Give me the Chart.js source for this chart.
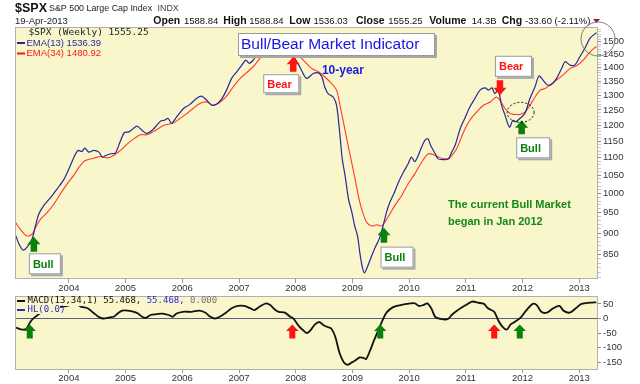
<!DOCTYPE html>
<html><head><meta charset="utf-8">
<script src="https://cdn.jsdelivr.net/npm/chart.js@4/dist/chart.umd.min.js"></script>
<style>
html,body{margin:0;padding:0;background:#fff;}
#wrap{position:relative;width:640px;height:384px;overflow:hidden;}
canvas{position:absolute;left:0;top:0;}
</style></head><body>
<div id="wrap"><canvas id="main" width="640" height="384"></canvas><canvas id="macd" width="640" height="384"></canvas></div>
<script>
// ---------- data ----------
const yearTicks = [2004,2005,2006,2007,2008,2009,2010,2011,2012,2013];
const priceTicks = [850,900,950,1000,1050,1100,1150,1200,1250,1300,1350,1400,1450,1500];
const macdTicks = [-150,-100,-50,0,50];

const ema13Years = [2003.06,2003.12,2003.19,2003.26,2003.35,2003.41,2003.47,2003.56,2003.68,2003.79,2003.91,2004.00,2004.09,2004.16,2004.23,2004.28,2004.35,2004.44,2004.53,2004.59,2004.65,2004.74,2004.82,2004.90,2004.98,2005.06,2005.12,2005.20,2005.29,2005.37,2005.47,2005.56,2005.62,2005.68,2005.75,2005.81,2005.90,2006.02,2006.13,2006.25,2006.34,2006.43,2006.52,2006.60,2006.69,2006.78,2006.87,2006.96,2007.05,2007.12,2007.18,2007.25,2007.31,2007.45,2007.55,2007.65,2007.75,2007.85,2007.92,2007.97,2008.07,2008.19,2008.31,2008.40,2008.46,2008.51,2008.57,2008.66,2008.72,2008.78,2008.82,2008.87,2008.93,2008.99,2009.04,2009.09,2009.13,2009.17,2009.21,2009.27,2009.34,2009.40,2009.47,2009.54,2009.60,2009.66,2009.74,2009.81,2009.90,2009.98,2010.04,2010.10,2010.16,2010.22,2010.28,2010.33,2010.38,2010.46,2010.51,2010.60,2010.69,2010.75,2010.81,2010.90,2010.98,2011.07,2011.16,2011.25,2011.34,2011.40,2011.46,2011.51,2011.57,2011.63,2011.69,2011.77,2011.83,2011.88,2011.95,2012.04,2012.13,2012.22,2012.29,2012.36,2012.44,2012.51,2012.60,2012.69,2012.75,2012.84,2012.92,2013.01,2013.10,2013.19,2013.30];
const ema13Values = [895,874,860,866,885,917,947,969,990,1012,1038,1068,1102,1122,1119,1129,1117,1122,1117,1102,1107,1112,1114,1147,1177,1179,1187,1197,1184,1174,1184,1202,1214,1216,1222,1206,1227,1255,1268,1289,1297,1283,1266,1269,1286,1318,1360,1384,1409,1428,1416,1428,1447,1490,1510,1480,1495,1515,1490,1443,1403,1360,1378,1380,1366,1330,1306,1294,1266,1168,1097,1049,986,951,917,893,854,824,809,824,847,866,885,917,951,977,1003,1030,1059,1082,1102,1089,1107,1132,1153,1158,1137,1112,1097,1095,1097,1117,1137,1189,1222,1260,1289,1318,1326,1318,1326,1306,1318,1266,1233,1194,1216,1211,1222,1238,1289,1330,1369,1354,1336,1338,1360,1397,1422,1409,1409,1441,1474,1514,1536.39];

const ema34Years = [2003.06,2003.15,2003.26,2003.35,2003.41,2003.50,2003.62,2003.74,2003.85,2003.97,2004.09,2004.18,2004.29,2004.44,2004.56,2004.68,2004.79,2004.91,2005.03,2005.15,2005.26,2005.38,2005.50,2005.68,2005.84,2005.96,2006.08,2006.19,2006.31,2006.43,2006.54,2006.66,2006.78,2006.90,2007.02,2007.13,2007.25,2007.37,2007.50,2007.65,2007.80,2007.92,2008.07,2008.16,2008.28,2008.40,2008.51,2008.63,2008.72,2008.78,2008.84,2008.90,2008.96,2009.01,2009.07,2009.13,2009.19,2009.25,2009.34,2009.43,2009.51,2009.57,2009.66,2009.75,2009.87,2009.98,2010.10,2010.22,2010.34,2010.46,2010.57,2010.69,2010.72,2010.84,2010.95,2011.07,2011.19,2011.31,2011.43,2011.54,2011.60,2011.69,2011.78,2011.87,2011.95,2012.04,2012.13,2012.22,2012.31,2012.40,2012.48,2012.60,2012.72,2012.84,2012.95,2013.07,2013.19,2013.30];
const ema34Values = [926,908,893,897,913,934,951,973,999,1026,1051,1073,1092,1099,1104,1100,1107,1122,1142,1158,1170,1170,1181,1200,1207,1222,1238,1255,1272,1277,1266,1275,1297,1330,1360,1380,1403,1435,1460,1470,1480,1472,1443,1422,1397,1384,1366,1342,1318,1266,1211,1158,1107,1068,1021,977,947,926,917,920,917,926,947,969,995,1026,1054,1087,1112,1107,1099,1097,1100,1128,1175,1216,1243,1266,1277,1294,1283,1255,1238,1235,1235,1243,1266,1294,1318,1324,1336,1354,1374,1397,1407,1428,1460,1480.92];

const macdYears = [2003.07,2003.18,2003.25,2003.32,2003.39,2003.55,2003.70,2003.86,2003.97,2004.08,2004.15,2004.22,2004.33,2004.43,2004.54,2004.61,2004.72,2004.79,2004.86,2004.94,2005.04,2005.15,2005.22,2005.29,2005.35,2005.44,2005.55,2005.65,2005.76,2005.83,2005.90,2006.01,2006.16,2006.30,2006.41,2006.48,2006.57,2006.66,2006.77,2006.87,2006.98,2007.09,2007.20,2007.27,2007.38,2007.48,2007.55,2007.63,2007.70,2007.81,2007.89,2007.96,2008.06,2008.13,2008.20,2008.27,2008.34,2008.42,2008.49,2008.56,2008.63,2008.70,2008.77,2008.85,2008.92,2008.99,2009.06,2009.13,2009.20,2009.24,2009.31,2009.38,2009.46,2009.53,2009.60,2009.71,2009.85,2009.96,2010.10,2010.17,2010.25,2010.32,2010.39,2010.46,2010.57,2010.68,2010.75,2010.86,2011.00,2011.11,2011.21,2011.32,2011.39,2011.50,2011.57,2011.64,2011.72,2011.79,2011.86,2011.97,2012.07,2012.18,2012.25,2012.33,2012.43,2012.54,2012.65,2012.72,2012.83,2012.94,2013.04,2013.19,2013.30];
const macdValues = [-31,-38,-35,-12,3,25,38,40,43,50,48,40,35,20,4,0,4,6,17,27,27,23,17,6,2,12,15,17,12,6,17,23,23,27,20,8,0,6,20,35,43,43,35,29,43,52,46,31,23,20,8,0,-27,-40,-50,-38,-20,-12,-23,-29,-35,-64,-116,-150,-158,-150,-142,-133,-135,-139,-110,-75,-38,-6,20,38,46,50,52,43,46,52,35,6,-2,-2,12,29,46,58,54,50,35,23,-6,-27,-38,-20,-12,4,29,50,46,23,20,35,43,27,20,35,50,54,55.468];

const signalYears = [2003.31, 2007.94, 2009.49, 2011.50, 2011.95];

// ---------- helpers ----------
const SANS = "'Liberation Sans', Arial, sans-serif";
const MONO = "'DejaVu Sans Mono', monospace";
const PLOT_BG = '#F8F6CA';
const GREEN = '#0b800b';
const RED = '#ff1414';
Chart.defaults.font.family = SANS;

function pts(xs, ys){ return xs.map((x,i)=>({x:x, y:ys[i]})); }
function txt(ctx, s, x, y, font, color, align, base){
  ctx.font = font; ctx.fillStyle = color; ctx.textAlign = align||'left'; ctx.textBaseline = base||'middle';
  ctx.fillText(s, x, y);
}
function arrow(ctx, x, tipY, dir, color, w, headH, shaftW, len){
  ctx.save(); ctx.fillStyle = color; ctx.beginPath();
  ctx.moveTo(x, tipY);
  ctx.lineTo(x + w/2, tipY + dir*headH);
  ctx.lineTo(x + shaftW/2, tipY + dir*headH);
  ctx.lineTo(x + shaftW/2, tipY + dir*len);
  ctx.lineTo(x - shaftW/2, tipY + dir*len);
  ctx.lineTo(x - shaftW/2, tipY + dir*headH);
  ctx.lineTo(x - w/2, tipY + dir*headH);
  ctx.closePath(); ctx.fill(); ctx.restore();
}
function labelBox(ctx, x, y, w, h, s, color){
  ctx.save();
  ctx.fillStyle = '#a8a8a8'; ctx.fillRect(x+2, y+2, w, h);
  ctx.fillStyle = '#fff'; ctx.fillRect(x, y, w, h);
  ctx.strokeStyle = '#9a9a9a'; ctx.lineWidth = 1; ctx.strokeRect(x+0.5, y+0.5, w-1, h-1);
  txt(ctx, s, x+4, y+h/2+1, 'bold 11px '+SANS, color);
  ctx.restore();
}

const panelPlugin = {
  id: 'panel',
  beforeDraw(chart){
    const a = chart.chartArea, ctx = chart.ctx;
    ctx.save(); ctx.fillStyle = PLOT_BG; ctx.fillRect(a.left, a.top, a.right-a.left, a.bottom-a.top); ctx.restore();
  },
  afterDatasetsDraw(chart){
    const a = chart.chartArea, ctx = chart.ctx;
    ctx.save(); ctx.strokeStyle = '#b0b0b0'; ctx.lineWidth = 1;
    ctx.strokeRect(a.left+0.5, a.top+0.5, a.right-a.left-1, a.bottom-a.top-1); ctx.restore();
  }
};

const mainNotes = {
  id: 'mainNotes',
  afterDraw(chart){
    const ctx = chart.ctx, xs = chart.scales.x, ys = chart.scales.y;
    const X = v => xs.getPixelForValue(v), Y = v => ys.getPixelForValue(v);
    ctx.save();
    // header
    txt(ctx, '$SPX', 15, 9, 'bold 12.5px '+SANS, '#111');
    txt(ctx, 'S&P 500 Large Cap Index', 49, 9, '8.9px '+SANS, '#222');
    txt(ctx, 'INDX', 157.5, 9, '8.9px '+SANS, '#444');
    txt(ctx, '19-Apr-2013', 15, 21.5, '9.5px '+SANS, '#222');
    const row = [['Open',153.3,1],['1588.84',184,0],['High',223.3,1],['1588.84',249.3,0],['Low',289.3,1],['1536.03',313.5,0],['Close',356,1],['1555.25',388.3,0],['Volume',429.3,1],['14.3B',471.7,0],['Chg',501.7,1],['-33.60 (-2.11%)',525,0]];
    row.forEach(r => txt(ctx, r[0], r[1], 21.5, (r[2]?'bold 10.5px ':'9.5px ')+SANS, '#111'));
    ctx.fillStyle = '#a0102a'; ctx.beginPath(); ctx.moveTo(593,19); ctx.lineTo(600,19); ctx.lineTo(596.5,23); ctx.closePath(); ctx.fill();
    // legend
    txt(ctx, '$SPX (Weekly) 1555.25', 28.5, 32.5, '9.5px '+MONO, '#222');
    ctx.fillStyle = '#28289a'; ctx.fillRect(17, 42, 8, 2);
    txt(ctx, 'EMA(13) 1536.39', 26.5, 43, '9.5px '+SANS, '#28289a');
    ctx.fillStyle = RED; ctx.fillRect(17, 52.5, 8, 2);
    txt(ctx, 'EMA(34) 1480.92', 26.5, 53.5, '9.5px '+SANS, RED);
    // title box
    ctx.fillStyle = '#a8a8a8'; ctx.fillRect(240, 35, 197, 23);
    ctx.fillStyle = '#fff'; ctx.fillRect(238, 33, 197, 23);
    ctx.strokeStyle = '#9a9a9a'; ctx.lineWidth = 1; ctx.strokeRect(238.5, 33.5, 196, 22);
    txt(ctx, 'Bull/Bear Market Indicator', 241, 45, '15.5px '+SANS, '#1414e6');
    txt(ctx, '10-year', X(2008.462), Y(1390), 'bold 12px '+SANS, '#1a1ae0');
    // arrows + labels
    let ax, ay;
    ax = X(2003.383); ay = Y(891); arrow(ctx, ax, ay, 1, GREEN, 13, 7.5, 6.5, 15); labelBox(ctx, ax-5, ay+16.5, 32, 21, 'Bull', GREEN);
    ax = X(2007.956); ay = Y(1441); arrow(ctx, ax, ay, 1, RED, 13, 7.5, 6.5, 15); labelBox(ctx, ax-30, ay+17.5, 36, 19, 'Bear', RED);
    ax = X(2009.556); ay = Y(913); arrow(ctx, ax, ay, 1, GREEN, 13, 7.5, 6.5, 15); labelBox(ctx, ax-3.5, ay+19, 33, 21, 'Bull', GREEN);
    ax = X(2011.601); ay = Y(1300); arrow(ctx, ax, ay, -1, RED, 13, 7.5, 6.5, 15); labelBox(ctx, ax-5, ay-39.5, 37, 21, 'Bear', RED);
    ax = X(2011.984); ay = Y(1216); arrow(ctx, ax, ay, 1, GREEN, 13, 7.5, 6.5, 14); labelBox(ctx, ax-5.5, ay+17, 34, 21, 'Bull', GREEN);
    // dashed ellipse around the crossing
    ctx.setLineDash([2,2]); ctx.strokeStyle = '#111'; ctx.lineWidth = 1;
    ctx.beginPath(); ctx.ellipse(X(2011.966), Y(1242), 13.5, 10, 0, 0, Math.PI*2); ctx.stroke();
    ctx.setLineDash([]);
    // gray circle at latest values
    ctx.strokeStyle = '#7a7a7a'; ctx.beginPath(); ctx.arc(X(2013.33), Y(1511), 17, 0, Math.PI*2); ctx.stroke();
    // comment text
    txt(ctx, 'The current Bull Market', X(2010.684), Y(969), 'bold 11px '+SANS, '#178717');
    txt(ctx, 'began in Jan 2012', X(2010.684), Y(928), 'bold 11px '+SANS, '#178717');
    ctx.restore();
  }
};

const macdNotes = {
  id: 'macdNotes',
  afterDatasetsDraw(chart){
    const ctx = chart.ctx, xs = chart.scales.x, ys = chart.scales.y;
    const y0 = ys.getPixelForValue(0);
    ctx.save();
    const a = chart.chartArea;
    ctx.fillStyle = PLOT_BG; ctx.fillRect(a.left+1, a.top+1, 212, 9); ctx.fillRect(a.left+1, a.top+10, 44, 8);
    ctx.fillStyle = '#111'; ctx.fillRect(17, 300, 8, 2);
    txt(ctx, 'MACD(13,34,1) 55.468,', 27.5, 301, '9px '+MONO, '#111');
    ctx.font = '9px '+MONO; const w1 = ctx.measureText('MACD(13,34,1) 55.468, ').width;
    txt(ctx, '55.468,', 27.5+w1, 301, '9px '+MONO, '#2a2ad0');
    const w2 = ctx.measureText('55.468, ').width;
    txt(ctx, '0.000', 27.5+w1+w2, 301, '9px '+MONO, '#777');
    ctx.fillStyle = '#2a2ad0'; ctx.fillRect(17, 309, 8, 2);
    txt(ctx, 'HL(0.0)', 27.5, 310, '9px '+MONO, '#2a2ad0');
    signalYears.forEach((yr, i) => {
      const col = (i === 1 || i === 3) ? RED : GREEN;
      arrow(ctx, xs.getPixelForValue(yr), y0 + 6, 1, col, 12.5, 6.5, 6, 14);
    });
    ctx.restore();
  }
};

const axisFont = {size: 9.5, family: SANS};

new Chart(document.getElementById('main'), {
  type: 'line',
  data: { datasets: [
    {label: 'EMA(13)', data: pts(ema13Years, ema13Values), borderColor: '#28289a', borderWidth: 1.2, pointRadius: 0, tension: 0.3},
    {label: 'EMA(34)', data: pts(ema34Years, ema34Values), borderColor: '#ff3a2e', borderWidth: 1.1, pointRadius: 0, tension: 0.3}
  ]},
  options: {
    responsive: false, animation: false, events: [],
    layout: {padding: {left: 15, top: 27, right: 0, bottom: 0}},
    plugins: {legend: {display: false}, tooltip: {enabled: false}},
    scales: {
      x: {type: 'linear', min: 2003.05, max: 2013.33,
          afterBuildTicks: s => { s.ticks = yearTicks.map(v => ({value: v})); },
          afterFit: s => { s.height = 384 - 279; },
          ticks: {callback: v => String(v), font: axisFont, color: '#333', padding: 0, maxRotation: 0, autoSkip: false},
          grid: {drawOnChartArea: false, tickLength: 4, color: '#999'}, border: {display: false}},
      y: {type: 'logarithmic', position: 'right', min: 796, max: 1560,
          afterBuildTicks: s => { const t = []; for (let v = 800; v <= 1550; v += 10) t.push({value: v}); s.ticks = t; },
          afterFit: s => { s.width = 42; },
          ticks: {callback: v => (priceTicks.indexOf(v) >= 0 ? String(v) : ''), font: axisFont, color: '#333', padding: 2, autoSkip: false},
          grid: {drawOnChartArea: false, tickLength: 3, tickColor: c => (c.tick && priceTicks.indexOf(c.tick.value) >= 0 ? '#888' : '#c8c8c8')}, border: {display: false}}
    }
  },
  plugins: [panelPlugin, mainNotes]
});

new Chart(document.getElementById('macd'), {
  type: 'line',
  data: { datasets: [
    {label: 'MACD(13,34,1)', data: pts(macdYears, macdValues), borderColor: '#111', borderWidth: 1.8, pointRadius: 0, tension: 0.3},
    {label: 'HL(0.0)', data: [{x: 2003.05, y: 0}, {x: 2013.33, y: 0}], borderColor: '#55607a', borderWidth: 1, pointRadius: 0}
  ]},
  options: {
    responsive: false, animation: false, events: [],
    layout: {padding: {left: 15, top: 296, right: 0, bottom: 0}},
    plugins: {legend: {display: false}, tooltip: {enabled: false}},
    scales: {
      x: {type: 'linear', min: 2003.05, max: 2013.33,
          afterBuildTicks: s => { s.ticks = yearTicks.map(v => ({value: v})); },
          afterFit: s => { s.height = 384 - 370; },
          ticks: {callback: v => String(v), font: axisFont, color: '#333', padding: 0, maxRotation: 0, autoSkip: false},
          grid: {drawOnChartArea: false, tickLength: 3, color: '#999'}, border: {display: false}},
      y: {type: 'linear', position: 'right', min: -176, max: 77,
          afterBuildTicks: s => { s.ticks = macdTicks.map(v => ({value: v})); },
          afterFit: s => { s.width = 42; },
          ticks: {callback: v => String(v), font: axisFont, color: '#333', padding: 2, autoSkip: false},
          grid: {drawOnChartArea: false, tickLength: 3, color: '#888'}, border: {display: false}}
    }
  },
  plugins: [panelPlugin, macdNotes]
});
</script>
</body></html>
